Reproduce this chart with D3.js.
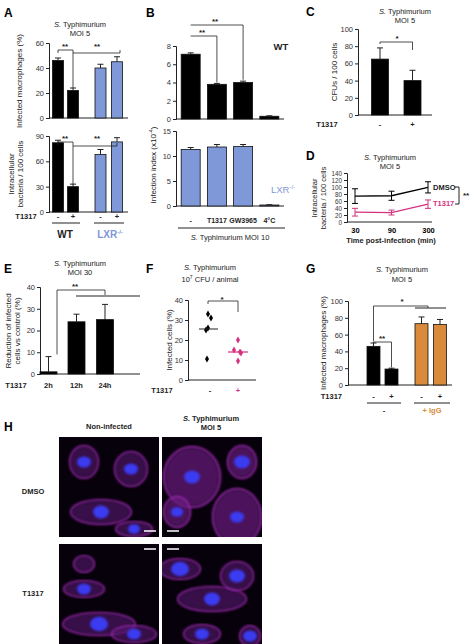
<!DOCTYPE html>
<html><head><meta charset="utf-8">
<script src="https://cdn.jsdelivr.net/npm/d3@7"></script>
<style>body{margin:0;background:#fff}svg{font-family:"Liberation Sans",Arial,sans-serif}</style>
</head><body><svg id="c" width="474" height="644"></svg>
<script>
// ---- data ----
const aCats=["WT-","WT+","LXR-","LXR+"];
const aTopVals=[46,22,40,45], aTopErr=[2,2,3,4];
const aBotVals=[82,30,68,83], aBotErr=[3,3,6,5];
const bCats=["-","T1317","GW3965","4°C"];
const bTopVals=[7.1,3.8,4.0,0.3], bTopErr=[0.15,0.1,0.15,0.05];
const bBotVals=[11.3,11.8,11.9,0.2], bBotErr=[0.4,0.5,0.4,0.05];
const cCats=["-","+"], cVals=[65,40], cErr=[13,12];
const dTimes=["30","90","300"];
const dDmso=[74,75,99], dDmsoErr=[21,13,16];
const dT1317=[28,27,51], dT1317Err=[11,7,12];
const eCats=["2h","12h","24h"], eVals=[1,24,25], eErr=[7,3.5,7];
const fNeg=[33,31,26,25,10.5], fPos=[20,15,14,13.5,9.5], fMed=[25.5,14];
const gCats=["-a","+a","-b","+b"], gVals=[46,19,73,72], gErr=[4,1,8,6];
const hCells=[ // [panel, cx, cy, rx, ry, nucleus rx]
 [0,25,25,14,16,7],[0,72,32,16,17,7],[0,42,75,30,12,8],[0,75,92,18,7,6],
 [1,30,40,28,30,8],[1,80,25,14,16,8],[1,15,75,13,15,6],[1,75,80,24,28,7],
 [2,25,20,10,8,0],[2,25,45,20,8,7],[2,40,80,36,11,9],[2,75,90,22,8,7],
 [3,18,25,20,10,9],[3,50,55,34,12,8],[3,75,32,16,14,8],[3,40,90,18,9,7],[3,88,92,10,10,7]];

const svg=d3.select("#c");
const blue="#7f98d8", mag="#d6307f", orange="#d98a3a";
function txt(x,y,s,o={}){const t=svg.append("text").attr("x",x).attr("y",y).attr("font-size",o.size||7.5)
 .attr("text-anchor",o.anchor||"middle").attr("font-weight",o.bold?"bold":null).attr("fill",o.fill||"#222")
 .attr("font-style",o.italic?"italic":null);
 if(o.rot)t.attr("transform",`rotate(-90,${x},${y})`);t.text(s);return t;}
function rich(x,y,parts,o={}){const t=svg.append("text").attr("x",x).attr("y",y).attr("font-size",o.size||7.5).attr("text-anchor","middle").attr("fill","#222");
 parts.forEach(p=>t.append("tspan").attr("font-style",p[1]?"italic":null).text(p[0]));return t;}
function label(x,y,s){txt(x,y,s,{size:12,bold:true,anchor:"start",fill:"#000"});}
function yaxis(x,y,ticks,fmt,fs){const g=svg.append("g").attr("transform",`translate(${x},0)`).call(d3.axisLeft(y).tickValues(ticks).tickSize(3).tickPadding(2).tickFormat(fmt||d3.format("d")));
 g.selectAll("text").attr("font-size",fs||7.5).attr("fill","#333");g.selectAll("line,path").attr("stroke","#222");return g;}
function xline(x0,x1,y){return svg.append("line").attr("x1",x0).attr("x2",x1).attr("y1",y).attr("y2",y).attr("stroke","#222");}
function bars(xs,y,vals,err,cols,bw){
 vals.forEach((v,i)=>{const cx=xs(i);
  svg.append("line").attr("x1",cx).attr("x2",cx).attr("y1",y(v)).attr("y2",y(v+err[i])).attr("stroke","#222");
  svg.append("line").attr("x1",cx-3).attr("x2",cx+3).attr("y1",y(v+err[i])).attr("y2",y(v+err[i])).attr("stroke","#222");
  svg.append("rect").attr("x",cx-bw/2).attr("y",y(v)).attr("width",bw).attr("height",y(0)-y(v)).attr("fill",cols[i]).attr("stroke","#111").attr("stroke-width",0.8);});}
function bracket(pts,ty,s){svg.append("path").attr("d",d3.line()(pts)).attr("fill","none").attr("stroke","#222").attr("stroke-width",0.8);
 txt(ty[0],ty[1],s,{size:8,bold:true});}

// ---- A ----
label(4,17,"A");
rich(80,27,[["S.",1],[" Typhimurium",0]]);txt(80,36,"MOI 5");
const aX=i=>[58,73,100.5,117][i];
const aYt=d3.scaleLinear([0,60],[118,43]);
xline(49,128,118);yaxis(49,aYt,[0,20,40,60]);
bars(aX,aYt,aTopVals,aTopErr,["#000","#000",blue,blue],11);
bracket([[58,53],[58,50],[73,50],[73,aYt(24)]],[65,49],"**");
bracket([[73,53],[120,53],[120,50]],[97,49],"**");
txt(22,81,"Infected macrophages (%)",{rot:1,size:8});
const aYb=d3.scaleLinear([0,90],[212,136]);
xline(49,128,212);yaxis(49,aYb,[0,30,60,90]);
bars(aX,aYb,aBotVals,aBotErr,["#000","#000",blue,blue],11);
bracket([[58,145],[58,142],[73,142],[73,aYb(33)]],[65,141],"**");
bracket([[73,146],[117,146],[117,143]],[97,141],"**");
txt(14,174,"Intracellular",{rot:1,size:8});txt(23,174,"bacteria / 100 cells",{rot:1,size:8});
txt(26,219,"T1317",{bold:true,size:7.5});
["-","+","-","+"].forEach((s,i)=>txt(aX(i),219,s,{bold:true}));
xline(52,80,223);xline(94,124,223);
txt(65,238,"WT",{bold:true,size:10});
svg.append("text").attr("x",110).attr("y",238).attr("text-anchor","middle").attr("font-size",10).attr("fill",blue).attr("font-weight","bold").text("LXR").append("tspan").attr("font-size",6).attr("dy",-4).text("-/-");

// ---- B ----
label(146,17,"B");
const bX=d3.scaleBand().domain(d3.range(4)).range([176,284]).padding(0.12);
const bx=i=>bX(i)+bX.bandwidth()/2;
const bYt=d3.scaleLinear([0,8],[119,46]);
xline(176,284,119);yaxis(176,bYt,[0,2,4,6,8]);
bars(bx,bYt,bTopVals,bTopErr,["#000","#000","#000","#000"],19);
bracket([[bx(0),36],[bx(1),36],[bx(1),bYt(4)]],[202,35],"**");
bracket([[bx(0),25],[bx(2),25],[bx(2),bYt(4.3)]],[215,24],"**");
const bYb=d3.scaleLinear([0,15],[206,131]);
xline(176,284,206);yaxis(176,bYb,[0,5,10,15]);
bars(bx,bYb,bBotVals,bBotErr,[blue,blue,blue,blue],19);
txt(156,165,"Infection index (x10",{rot:1,size:8}).append("tspan").attr("font-size",5.5).attr("dy",-3).text("-4").append("tspan").attr("font-size",8).attr("dy",3).text(")");
bCats.forEach((s,i)=>txt(bx(i),223,s,{bold:true,size:7}));
xline(178,285,228);rich(230,240,[["S.",1],[" Typhimurium MOI 10",0]]);
txt(281,50,"WT",{bold:true,size:9.5});
svg.append("text").attr("x",283).attr("y",193).attr("text-anchor","middle").attr("font-size",9.5).attr("fill",blue).text("LXR").append("tspan").attr("font-size",6).attr("dy",-4).text("-/-");

// ---- C ----
label(306,16,"C");
rich(405,14,[["S.",1],[" Typhimurium",0]]);txt(405,23,"MOI 5");
const cY=d3.scaleLinear([0,100],[115,29]);
const cX=i=>[380,412.5][i];
xline(358,432,115);yaxis(358,cY,[0,20,40,60,80,100]);
bars(cX,cY,cVals,cErr,["#000","#000"],17);
bracket([[380,44],[380,42],[412.5,42],[412.5,50]],[397,41],"*");
txt(337,72,"CFUs / 100 cells",{rot:1,size:8});
txt(327,127,"T1317",{bold:true});cCats.forEach((s,i)=>txt(cX(i),127,s,{bold:true}));

// ---- D ----
label(306,160,"D");
rich(390,160,[["S.",1],[" Typhimurium",0]]);txt(390,169,"MOI 5");
const dY=d3.scaleLinear([0,140],[222,173]);
const dX=d3.scalePoint().domain(dTimes).range([355,428]);
xline(347,432,222);yaxis(347,dY,[0,20,40,60,80,100,120,140],null,6.3);
svg.append("g").attr("transform","translate(0,222)").call(d3.axisBottom(dX).tickSize(0).tickFormat(d=>d)).call(g=>{g.select("path").remove();g.selectAll("text").attr("font-size",7.5).attr("font-weight","bold").attr("dy",8);});
function series(v,e,col){svg.append("path").attr("d",d3.line().x((d,i)=>dX(dTimes[i])).y(d=>dY(d))(v)).attr("fill","none").attr("stroke",col).attr("stroke-width",1.3);
 v.forEach((d,i)=>{const x=dX(dTimes[i]);svg.append("path").attr("d",`M${x},${dY(d-e[i])}V${dY(d+e[i])}M${x-3},${dY(d-e[i])}h6M${x-3},${dY(d+e[i])}h6`).attr("stroke",col).attr("stroke-width",1);});}
series(dDmso,dDmsoErr,"#000");series(dT1317,dT1317Err,mag);
txt(433,190,"DMSO",{anchor:"start",bold:true,size:7.5});txt(433,206,"T1317",{anchor:"start",bold:true,size:7.5,fill:mag});
svg.append("path").attr("d","M455,187h4V204h-4").attr("fill","none").attr("stroke","#222");
txt(466,198,"**",{bold:true,size:8});
txt(317,198,"Intracellular",{rot:1,size:7.5});txt(326,198,"bacteria / 100 cells",{rot:1,size:7.5});
txt(391,243,"Time post-infection (min)",{bold:true,size:7.5});

// ---- E ----
label(4,273,"E");
rich(80,266,[["S.",1],[" Typhimurium",0]]);txt(80,275,"MOI 30");
const eY=d3.scaleLinear([0,40],[374,287]);
const eX=i=>[48.5,76.5,105][i];
xline(40,140,374);yaxis(40,eY,[0,10,20,30,40]);
bars(eX,eY,eVals,eErr,["#000","#000","#000"],17);
bracket([[57,eY(9)],[57,290],[105,290],[105,295]],[75,289],"**");
xline(76,140,296);
txt(11,331,"Reduction of infected",{rot:1,size:8});txt(20,331,"cells vs control (%)",{rot:1,size:8});
txt(16,388,"T1317",{bold:true});eCats.forEach((s,i)=>txt(eX(i),388,s,{bold:true}));

// ---- F ----
label(146,273,"F");
rich(210,270,[["S.",1],[" Typhimurium",0]]);
svg.append("text").attr("x",210).attr("y",282).attr("font-size",7.5).attr("text-anchor","middle").attr("fill","#222").text("10").append("tspan").attr("font-size",5).attr("dy",-3).text("7").append("tspan").attr("font-size",7.5).attr("dy",3).text(" CFU / animal");
const fY=d3.scaleLinear([0,40],[380,300]);
xline(188,256,380);yaxis(188,fY,[0,10,20,30,40]);
const jit=[0,3,0,-2,-1];
fNeg.forEach((v,i)=>svg.append("path").attr("d",d3.symbol(d3.symbolDiamond,14)()).attr("transform",`translate(${208+jit[i]},${fY(v)})`).attr("fill","#000"));
fPos.forEach((v,i)=>svg.append("path").attr("d",d3.symbol(d3.symbolDiamond,14)()).attr("transform",`translate(${238+[0,-4,2,3,0][i]},${fY(v)})`).attr("fill",mag));
xline(199,218,fY(fMed[0]));svg.append("line").attr("x1",228).attr("x2",248).attr("y1",fY(fMed[1])).attr("y2",fY(fMed[1])).attr("stroke",mag).attr("stroke-width",1.2);
bracket([[208,304],[208,301],[238,301],[238,312]],[222,302],"*");
txt(172,340,"Infected cells (%)",{rot:1,size:8});
txt(162,393,"T1317",{bold:true});txt(210,393,"-",{bold:true});txt(238,393,"+",{bold:true,fill:mag});

// ---- G ----
label(306,273,"G");
rich(402,272,[["S.",1],[" Typhimurium",0]]);txt(402,282,"MOI 5");
const gY=d3.scaleLinear([0,100],[385,301]);
const gX=i=>[373.5,391.5,421.5,440][i];
xline(348,452,385);yaxis(348,gY,[0,20,40,60,80,100]);
bars(gX,gY,gVals,gErr,["#000","#000",orange,orange],13);
bracket([[373.5,345],[373.5,342],[391.5,342],[391.5,gY(21)]],[382,341],"**");
bracket([[373.5,gY(52)],[373.5,306],[428,306],[428,308]],[402,304],"*");
xline(415,446,308);
txt(326,343,"Infected macrophages (%)",{rot:1,size:8});
txt(342,399,"T1317",{bold:true,anchor:"end"});["-","+","-","+"].forEach((s,i)=>txt(gX(i),399,s,{bold:true}));
xline(367,401,403);xline(414,450,403);
txt(384,413,"-",{bold:true});txt(432,413,"+ IgG",{bold:true,fill:orange});

// ---- H ----
label(4,431,"H");
txt(109,429,"Non-infected",{bold:true,size:7.5});
rich(211,421,[["S.",1],[" Typhimurium",0]]).attr("font-weight","bold");txt(211,430,"MOI 5",{bold:true});
txt(33,494,"DMSO",{bold:true});txt(33,596,"T1317",{bold:true});
const defs=svg.append("defs");
defs.append("filter").attr("id","bl").append("feGaussianBlur").attr("stdDeviation",2);
defs.append("filter").attr("id","bl2").append("feGaussianBlur").attr("stdDeviation",1);
const px=[59,162], py=[437,544];
[0,1,2,3].forEach(p=>{const x0=px[p%2],y0=py[Math.floor(p/2)];
 defs.append("clipPath").attr("id","cp"+p).append("rect").attr("x",x0).attr("y",y0).attr("width",100).attr("height",100);
 svg.append("rect").attr("x",x0).attr("y",y0).attr("width",100).attr("height",100).attr("fill","#06010a");});
hCells.forEach(c=>{const x0=px[c[0]%2],y0=py[Math.floor(c[0]/2)];
 const g=svg.append("g").attr("clip-path",`url(#cp${c[0]})`);
 g.append("ellipse").attr("cx",x0+c[1]).attr("cy",y0+c[2]).attr("rx",c[3]).attr("ry",c[4]).attr("fill","none").attr("stroke","#b030c0").attr("stroke-width",2).attr("opacity",0.8).attr("filter","url(#bl2)");
 g.append("ellipse").attr("cx",x0+c[1]).attr("cy",y0+c[2]).attr("rx",c[3]).attr("ry",c[4]).attr("fill",c[0]==1?"#6a1a80":"#501466").attr("opacity",0.7).attr("filter","url(#bl)");
 if(c[5]>0)g.append("ellipse").attr("cx",x0+c[1]).attr("cy",y0+c[2]).attr("rx",c[5]).attr("ry",c[5]*0.8).attr("fill","#3a3af0").attr("filter","url(#bl2)");});
[[144,531],[167,531],[144,549],[167,549]].forEach(s=>xline(s[0],s[0]+12,s[1]).attr("stroke","#fff").attr("stroke-width",1.5));
</script></body></html>
